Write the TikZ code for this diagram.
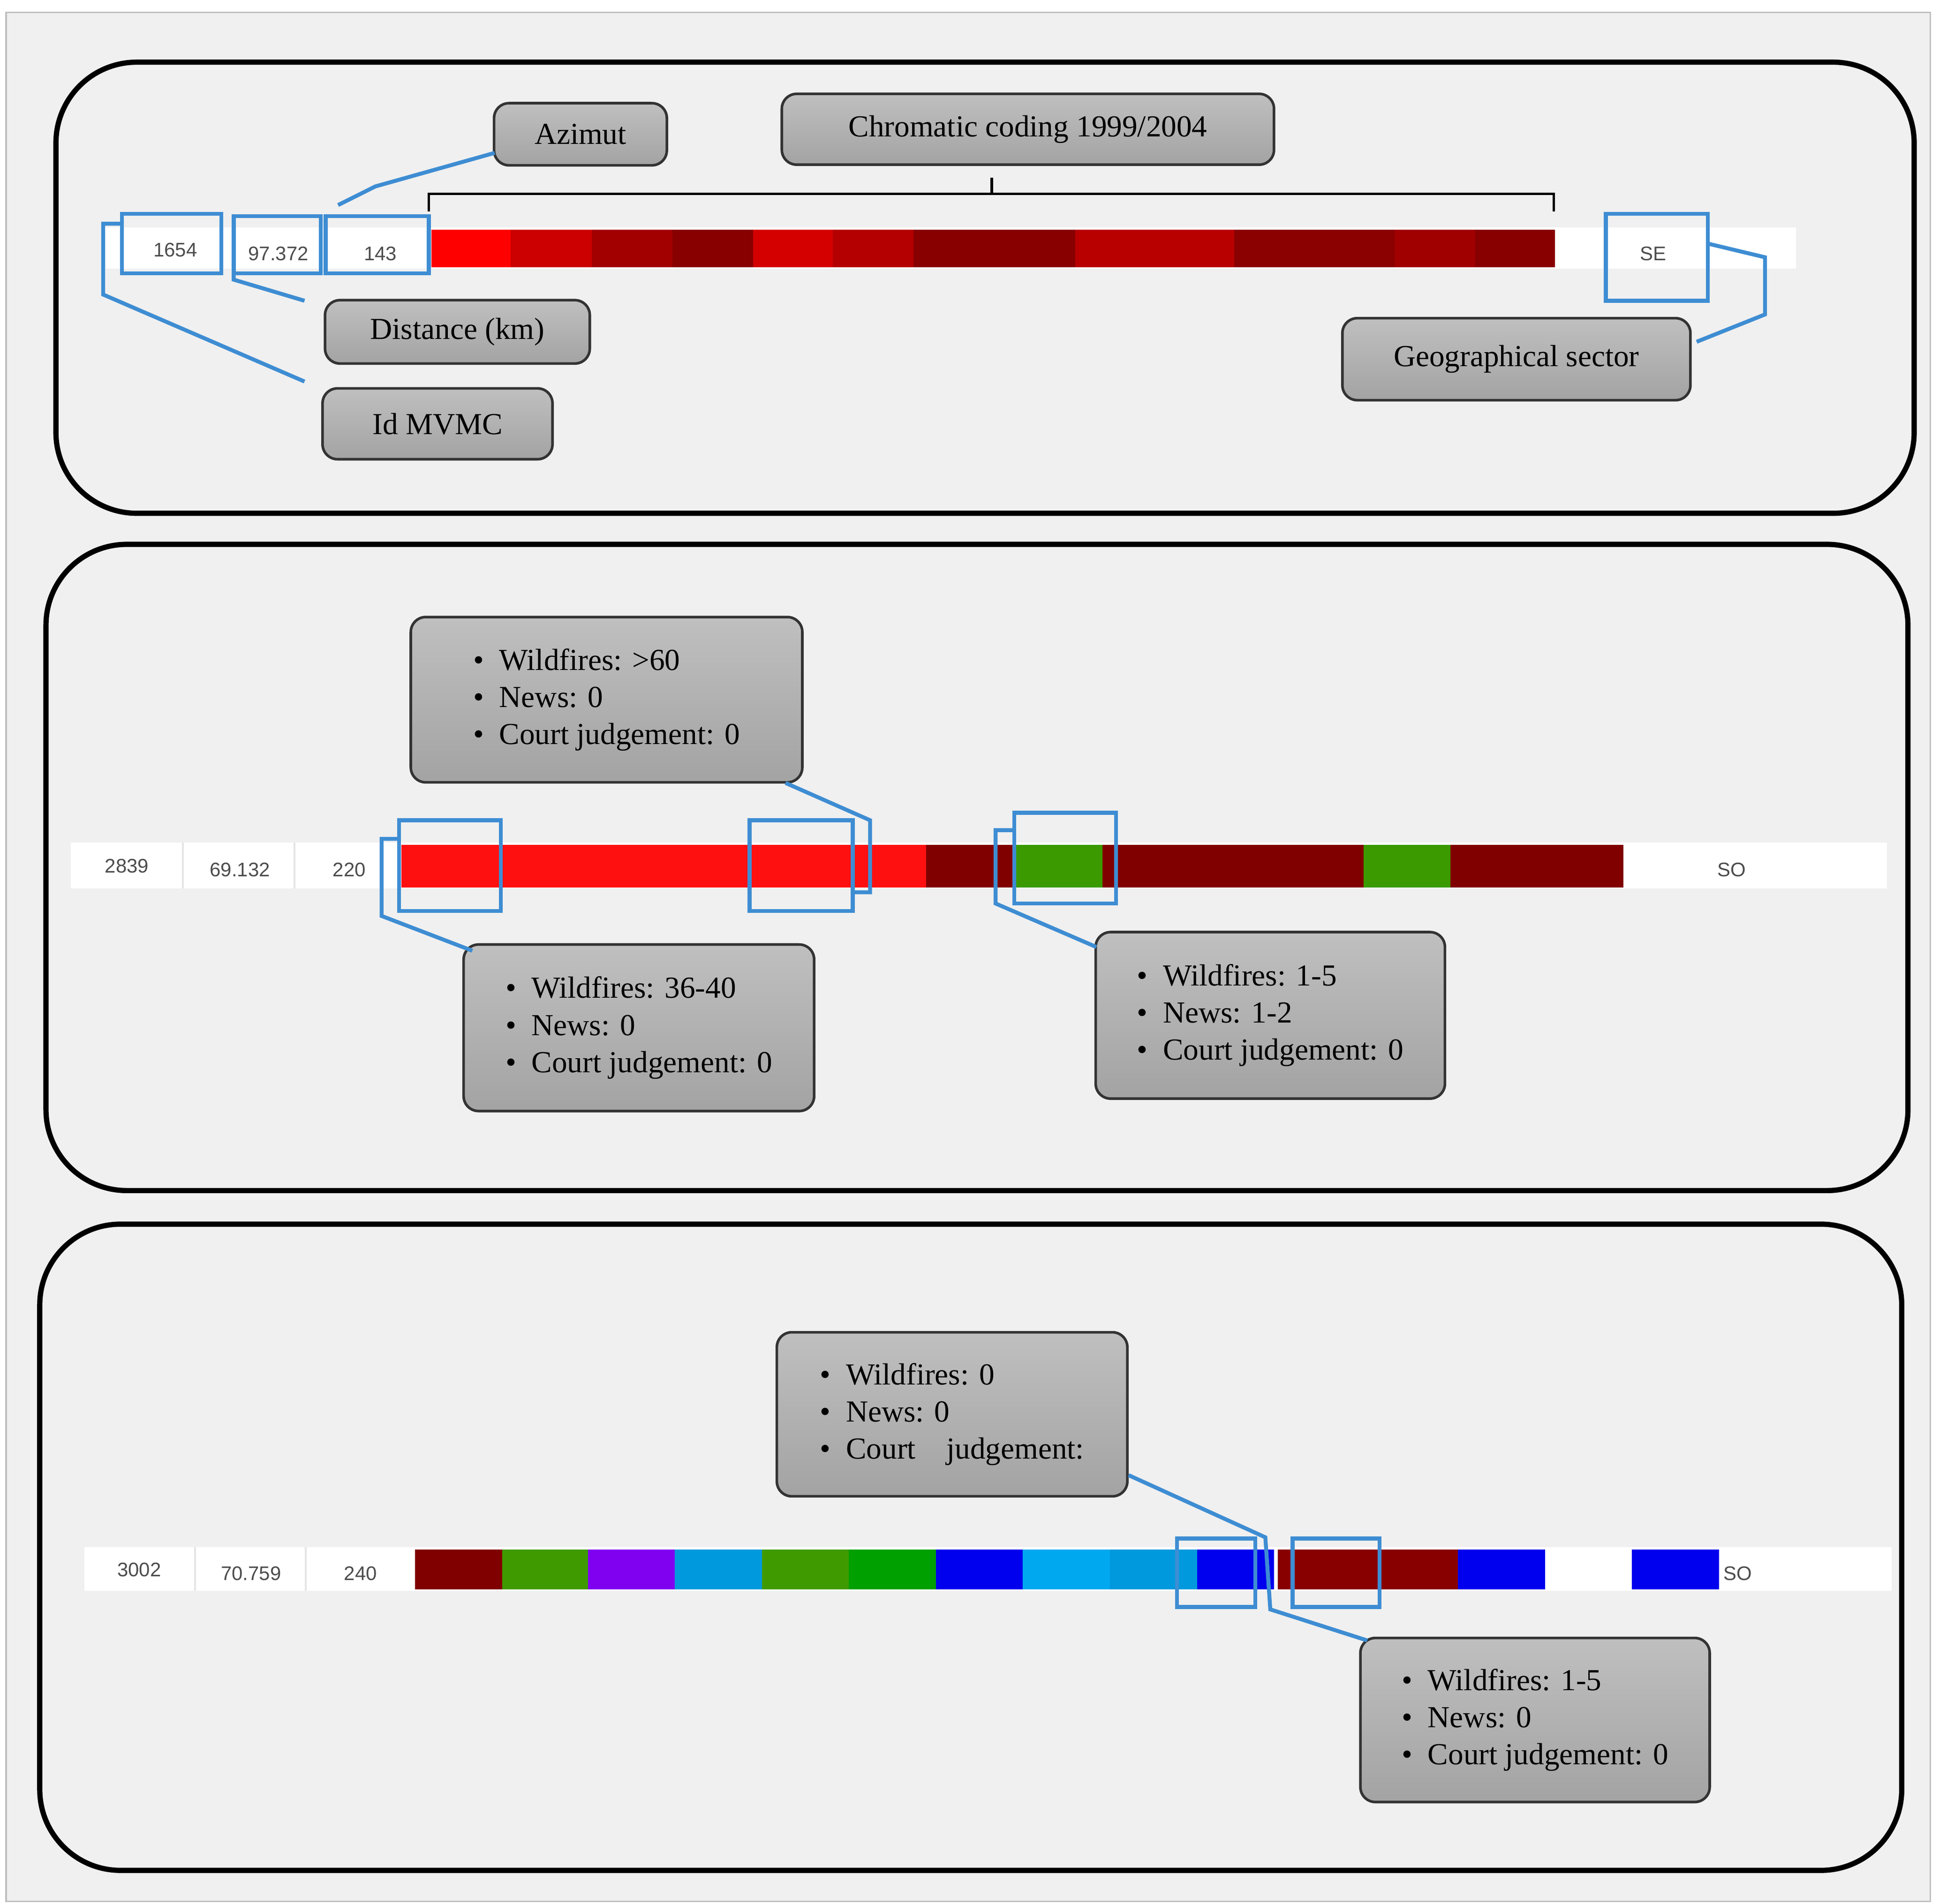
\documentclass[tikz,border=0pt]{standalone}
\usepackage{fontspec}
\setmainfont{Liberation Serif}
\newfontfamily\numf{Liberation Sans}
\begin{document}
\begin{tikzpicture}[x=0.01cm,y=-0.01cm,
 panel/.style={draw=black,line width=1.2pt,rounded corners=0.65cm},
 gbox/.style={draw=black!80,line width=0.6pt,rounded corners=0.12cm,top color=gray!50,bottom color=gray!72,font=\fontsize{7}{8.5}\selectfont,align=left,inner sep=0pt},
 sz/.style 2 args={minimum width=#1*0.01cm,minimum height=#2*0.01cm},
 blu/.style={draw=cyan!60!blue!80,line width=0.9pt},
 num/.style={font=\numf\fontsize{4.5}{5}\selectfont,text=black!70},
 seg/.style={draw=none}]
\useasboundingbox (0,0) rectangle (1560,1532);
\fill[white] (0,0) rectangle (1560,1532);
\fill[gray!12,draw=gray!50] (5,10) rectangle (1553,1530);
% panels
\draw[panel] (45,50) rectangle (1540,413);
\draw[panel] (37,438) rectangle (1535,958);
\draw[panel] (32,985) rectangle (1530,1505);
% ---- panel 1
\fill[white] (85,183) rectangle (1445,216);
\foreach \a/\b/\c in {347/411/FF0000,411/476/CC0000,476/541/A20000,541/606/880000,606/670/D40000,670/735/B40000,735/865/880000,865/993/B80000,993/1122/8B0000,1122/1187/A00000,1187/1251/880000}
 {\definecolor{cc}{HTML}{\c}\fill[cc] (\a,185) rectangle (\b,215);}
\node[num] (n1) at (141,201) {1654};
\node[num] (n2) at (224,204) {97.372};
\node[num] (n3) at (306,204) {143};
\node[num] (n4) at (1330,204) {SE};
\draw[blu] (98,172) rectangle (178,220);
\draw[blu] (188,174) rectangle (258,220);
\draw[blu] (262,174) rectangle (345,220);
\draw[blu] (1292,172) rectangle (1374,242);
\draw[line width=0.6pt] (345,170)--(345,156)--(1250,156)--(1250,170) (798,156)--(798,143);
\node[gbox,sz={139}{50}] (az) at (467,108) {Azimut};
\node[gbox,sz={396}{57}] (cc) at (827,104) {Chromatic coding 1999/2004};
\node[gbox,sz={213}{51}] (di) at (368,267) {Distance (km)};
\node[gbox,sz={185}{57}] (id) at (352,341) {Id MVMC};
\node[gbox,sz={280}{66}] (gs) at (1220,289) {Geographical sector};
\coordinate (azp) at (272,165);
\draw[blu] (398,123) -- (302,150) -- (azp);
\draw[blu] (98,180)--(83,180)--(83,237)--(245,307);
\draw[blu] (188,182)--(188,225)--(245,242);
\draw[blu] (1374,196)--(1420,207)--(1420,253)--(1365,275);
% ---- panel 2
\fill[white] (57,678) rectangle (1518,715);
\draw[gray!20] (147,678)--(147,715) (237,678)--(237,715);
\foreach \a/\b/\c in {323/745/FF1010,745/815/800000,815/887/3A9A00,887/1097/800000,1097/1167/3A9A00,1167/1306/800000}
 {\definecolor{cc}{HTML}{\c}\fill[cc] (\a,680) rectangle (\b,714);}
\node[num] (m1) at (102,697) {2839};
\node[num] (m2) at (193,700) {69.132};
\node[num] (m3) at (281,700) {220};
\node[num] (m4) at (1393,700) {SO};
\draw[blu] (321,660) rectangle (403,733);
\draw[blu] (603,660) rectangle (686,733);
\draw[blu] (816,654) rectangle (898,727);
\node[gbox,sz={315}{133}] (ca) at (488,563) {\textbullet\ \ Wildfires: >60\\\textbullet\ \ News: 0\\\textbullet\ \ Court judgement: 0};
\node[gbox,sz={282}{134}] (cb) at (514,827) {\textbullet\ \ Wildfires: 36-40\\\textbullet\ \ News: 0\\\textbullet\ \ Court judgement: 0};
\node[gbox,sz={281}{134}] (cx) at (1022,817) {\textbullet\ \ Wildfires: 1-5\\\textbullet\ \ News: 1-2\\\textbullet\ \ Court judgement: 0};
\draw[blu] (321,675)--(307,675)--(307,737)--(380,765);
\draw[blu] (686,718)--(700,718)--(700,660)--(632,630);
\draw[blu] (816,668)--(801,668)--(801,727)--(882,762);
% ---- panel 3
\fill[white] (68,1245) rectangle (1522,1280);
\draw[gray!20] (157,1245)--(157,1280) (246,1245)--(246,1280);
\foreach \a/\b/\c in {334/404/800000,404/473/3F9A00,473/543/8000F0,543/613/0099DD,613/683/3F9A00,683/753/00A000,753/823/0000EE,823/893/00A8F0,893/963/0099DD,963/1025/0000EE,1028/1173/880000,1173/1243/0000EE,1313/1383/0000EE}
 {\definecolor{cc}{HTML}{\c}\fill[cc] (\a,1247) rectangle (\b,1279);}
\node[num] (k1) at (112,1263) {3002};
\node[num] (k2) at (202,1266) {70.759};
\node[num] (k3) at (290,1266) {240};
\node[num] (k4) at (1398,1266) {SO};
\draw[blu] (947,1238) rectangle (1010,1293);
\draw[blu] (1040,1238) rectangle (1110,1293);
\node[gbox,sz={282}{132}] (ct) at (766,1138) {\textbullet\ \ Wildfires: 0\\\textbullet\ \ News: 0\\\textbullet\ \ Court \ \ \ judgement:};
\node[gbox,sz={281}{132}] (cu) at (1235,1384) {\textbullet\ \ Wildfires: 1-5\\\textbullet\ \ News: 0\\\textbullet\ \ Court judgement: 0};
\draw[blu] (908,1187)--(1018,1237)--(1022,1295)--(1100,1320);
\end{tikzpicture}
\end{document}
